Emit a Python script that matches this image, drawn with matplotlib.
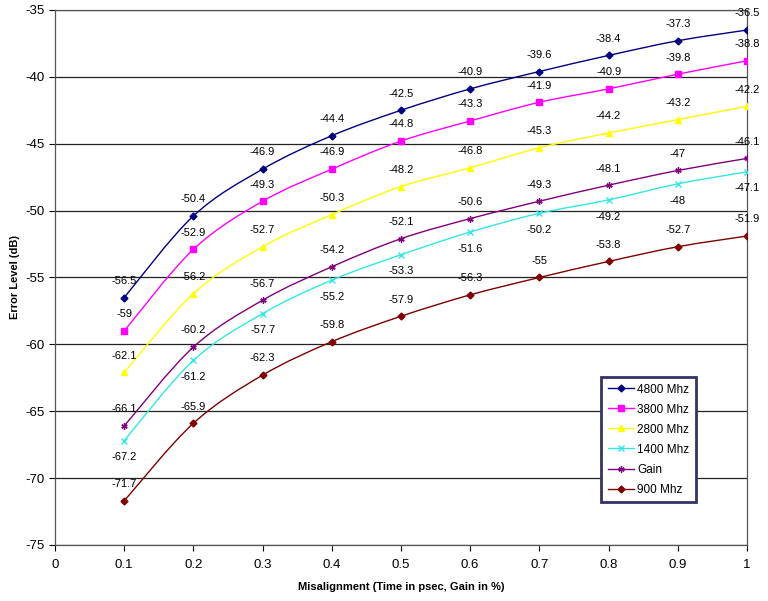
import matplotlib
matplotlib.use("Agg")
import matplotlib.pyplot as plt
from matplotlib.path import Path
from matplotlib.patches import PathPatch

plt.rcParams["font.family"] = ["Liberation Sans", "DejaVu Sans"]
plt.rcParams["axes.unicode_minus"] = False

# misalignment values (x axis)
misalignment = [0.1, 0.2, 0.3, 0.4, 0.5, 0.6, 0.7, 0.8, 0.9, 1.0]

# error level (dB) per series
err_4800 = [-56.5, -50.4, -46.9, -44.4, -42.5, -40.9, -39.6, -38.4, -37.3, -36.5]
err_3800 = [-59, -52.9, -49.3, -46.9, -44.8, -43.3, -41.9, -40.9, -39.8, -38.8]
err_2800 = [-62.1, -56.2, -52.7, -50.3, -48.2, -46.8, -45.3, -44.2, -43.2, -42.2]
err_1400 = [-67.2, -61.2, -57.7, -55.2, -53.3, -51.6, -50.2, -49.2, -48, -47.1]
err_gain = [-66.1, -60.2, -56.7, -54.2, -52.1, -50.6, -49.3, -48.1, -47, -46.1]
err_900 = [-71.7, -65.9, -62.3, -59.8, -57.9, -56.3, -55, -53.8, -52.7, -51.9]

series_names = ["4800 Mhz", "3800 Mhz", "2800 Mhz", "1400 Mhz", "Gain", "900 Mhz"]
series_values = [err_4800, err_3800, err_2800, err_1400, err_gain, err_900]
colors = ["#000080", "#FF00FF", "#FFFF00", "#33E6E6", "#800080", "#800000"]
markers = ["D", "s", "^", "x", (6, 2, 0), "D"]
marker_sizes = [3.5, 4.5, 5, 4, 4.5, 3.5]
# 1400 Mhz labels sit below the point, the rest above
label_below = [False, False, False, True, False, False]


def smooth_path(xs, ys, tension=1.0 / 6):
    """Bezier path through the points, like Excel's smoothed line."""
    verts = [(xs[0], ys[0])]
    codes = [Path.MOVETO]
    n = len(xs)
    for i in range(n - 1):
        x0, y0 = (xs[i - 1], ys[i - 1]) if i > 0 else (xs[i], ys[i])
        x1, y1 = xs[i], ys[i]
        x2, y2 = xs[i + 1], ys[i + 1]
        x3, y3 = (xs[i + 2], ys[i + 2]) if i + 2 < n else (x2, y2)
        c1 = (x1 + (x2 - x0) * tension, y1 + (y2 - y0) * tension)
        c2 = (x2 - (x3 - x1) * tension, y2 - (y3 - y1) * tension)
        verts += [c1, c2, (x2, y2)]
        codes += [Path.CURVE4] * 3
    return Path(verts, codes)


fig = plt.figure(figsize=(7.68, 6.01), dpi=100)
ax = fig.add_axes([0.0716, 0.0932, 0.901, 0.8902])

for name, vals, col, mk, ms, below in zip(series_names, series_values, colors,
                                          markers, marker_sizes, label_below):
    ax.add_patch(PathPatch(smooth_path(misalignment, vals), facecolor="none",
                           edgecolor=col, lw=1.0, zorder=3))
    ax.plot(misalignment, vals, linestyle="none", marker=mk, ms=ms, color=col,
            mec=col, mew=1.0, zorder=4)
    # legend proxy
    ax.plot([], [], color=col, marker=mk, ms=ms, mec=col, lw=1.0, label=name)
    for x, y in zip(misalignment, vals):
        ax.annotate(f"{y:g}", (x, y), xytext=(0, -12 if below else 12),
                    textcoords="offset points", ha="center", va="center",
                    fontsize=8, zorder=5)

ax.set_xlim(0, 1)
ax.set_ylim(-75, -35)
ax.set_xticks([i / 10 for i in range(11)])
ax.set_xticklabels(["0", "0.1", "0.2", "0.3", "0.4", "0.5", "0.6", "0.7",
                    "0.8", "0.9", "1"])
ax.set_yticks(range(-75, -34, 5))
ax.tick_params(labelsize=9.5, direction="out", length=4, width=0.8)
ax.tick_params(axis="x", pad=6)
ax.yaxis.grid(True, color="#222222", lw=0.9)
ax.set_axisbelow(True)
for sp in ax.spines.values():
    sp.set_color("#555555")
    sp.set_linewidth(0.9)

ax.set_xlabel("Misalignment (Time in psec, Gain in %)", fontsize=8,
              fontweight="bold", labelpad=8)
ax.set_ylabel("Error Level (dB)", fontsize=8, fontweight="bold", labelpad=4)

leg = ax.legend(loc="lower right", bbox_to_anchor=(0.935, 0.069), fontsize=8.5,
                frameon=True, fancybox=False, handlelength=2.2,
                borderpad=0.55, labelspacing=0.68, handletextpad=0.3)
leg.get_frame().set_edgecolor("#333366")
leg.get_frame().set_linewidth(2.0)
leg.get_frame().set_alpha(1)

fig.savefig("out.png", dpi=100)
